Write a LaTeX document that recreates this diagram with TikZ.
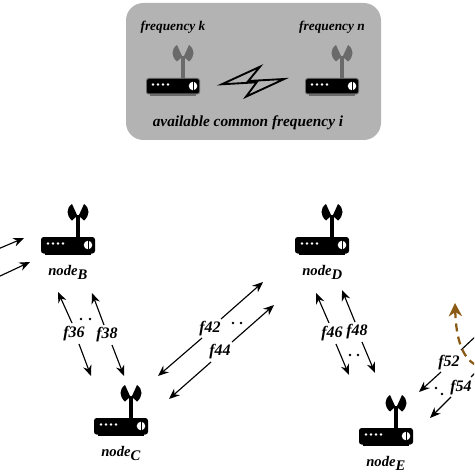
\documentclass[tikz,border=0pt]{standalone}
\usepackage{fontspec}
\setmainfont{Liberation Serif}
\usetikzlibrary{arrows.meta}
\definecolor{panelgray}{HTML}{B3B3B3}
\definecolor{antgray}{HTML}{6A6A6A}
\definecolor{brownarrow}{HTML}{8B5A14}
\tikzset{
  link/.style={-{Stealth[length=8pt,width=6.5pt]},line width=0.85pt,black},
  plainlink/.style={line width=0.85pt,black},
  flabel/.style={font=\fontsize{12}{14}\selectfont\bfseries\itshape,inner sep=0pt},
  toplabel/.style={font=\fontsize{10}{12}\selectfont\bfseries\itshape,inner sep=0pt},
  nodelabel/.style={font=\fontsize{11}{13}\selectfont\bfseries\itshape,inner sep=0pt},
  dotmark/.style={circle,fill=black,inner sep=0pt,minimum size=2pt},
  pics/router/.style={code={
    \fill[#1] (-1.7,0) rectangle (1.7,-22);
    \fill[#1] (-1,-22) -- (-6,-33) .. controls (-9,-31) and (-10.5,-28) .. (-10.5,-25)
      .. controls (-10.5,-22) and (-9,-19) .. (-6,-16.5) -- (-1,-21) -- cycle;
    \fill[#1] (1,-22) -- (6,-33) .. controls (9,-31) and (10.5,-28) .. (10.5,-25)
      .. controls (10.5,-22) and (9,-19) .. (6,-16.5) -- (1,-21) -- cycle;
    \fill[#1] (-33,15) rectangle (13,18);
    \fill[#1,rounded corners=2pt] (-37,0) rectangle (17,16.5);
    \fill[black,rounded corners=1.5pt] (-36,1) rectangle (16,15.5);
    \foreach \q in {-30,-25,-20,-15}{\fill[white] (\q,6.5) circle (1pt);}
    \fill[white] (10,8) circle (3.2pt);
    \fill[black] (9.5,3) rectangle (10.5,13);
  }},
}
\begin{document}
\begin{tikzpicture}[x=0.75pt,y=-0.75pt]
\useasboundingbox (0,0) rectangle (474,474);
\clip (0,0) rectangle (474,474);
% panel
\fill[panelgray,rounded corners=13pt] (126,3) rectangle (381,140);
\pic at (183,78) {router=antgray};
\pic at (342,78) {router=antgray};
\draw[line width=1.4pt,line join=miter,miter limit=10] (221.7,84.3) -- (260,66.7) -- (248.3,81) -- (284.3,79) -- (246,96.7) -- (256.7,82.3) -- cycle;
\node[toplabel] (tk) at (173,27) {frequency k};
\node[toplabel] (tn) at (332,27) {frequency n};
\node[font=\fontsize{11.5}{13}\selectfont\bfseries\itshape,inner sep=0pt] (tc) at (248,122.5) {available common frequency i};
% routers
\pic at (78,237) {router=black};
\pic at (131,418) {router=black};
\pic at (332,237) {router=black};
\pic at (396,428) {router=black};
\node[nodelabel,anchor=base west] (nB) at (48,275) {node\raisebox{-3pt}{B}};
\node[nodelabel,anchor=base west] (nC) at (101,456) {node\raisebox{-3pt}{C}};
\node[nodelabel,anchor=base west] (nD) at (302,275) {node\raisebox{-3pt}{D}};
\node[nodelabel,anchor=base west] (nE) at (366,466) {node\raisebox{-3pt}{E}};
% frequency labels
\node[flabel] (f36) at (74,334) {f36};
\node[flabel] (f38) at (107,335) {f38};
\node[flabel] (f42) at (210,329) {f42};
\node[flabel] (f44) at (220,352) {f44};
\node[flabel] (f46) at (332,334) {f46};
\node[flabel] (f48) at (357,332) {f48};
\node[flabel] (f52) at (449,363) {f52};
\node[flabel] (f54) at (461,388) {f54};
% connector ends
\coordinate (a1) at (-2,249); \coordinate (a2) at (24,238);
\coordinate (b1) at (-2,277); \coordinate (b2) at (30,262);
\coordinate (c1) at (72,323); \coordinate (c2) at (58,292);
\coordinate (c3) at (79,344); \coordinate (c4) at (91,376);
\coordinate (d1) at (104,325); \coordinate (d2) at (92,293);
\coordinate (d3) at (112,345); \coordinate (d4) at (124,376);
\coordinate (e1) at (202,338); \coordinate (e2) at (158,376);
\coordinate (e3) at (221,319); \coordinate (e4) at (263,282);
\coordinate (g1) at (211,362); \coordinate (g2) at (169,399);
\coordinate (g3) at (232,342); \coordinate (g4) at (274,305);
\coordinate (h1) at (329,323); \coordinate (h2) at (316,293);
\coordinate (h3) at (336,344); \coordinate (h4) at (349,375);
\coordinate (i1) at (355,322); \coordinate (i2) at (342,290);
\coordinate (i3) at (362,342); \coordinate (i4) at (375,373);
\coordinate (j1) at (441,372); \coordinate (j2) at (419,392);
\coordinate (j3) at (476,336); \coordinate (j4) at (461,350);
\coordinate (k1) at (451,397); \coordinate (k2) at (430,418);
\coordinate (k3) at (476,372); \coordinate (k4) at (471,377);
\draw[link] (a1) -- (a2);
\draw[link] (b1) -- (b2);
\draw[link] (c1) -- (c2);
\draw[link] (c3) -- (c4);
\draw[link] (d1) -- (d2);
\draw[link] (d3) -- (d4);
\draw[link] (e1) -- (e2);
\draw[link] (e3) -- (e4);
\draw[link] (g1) -- (g2);
\draw[link] (g3) -- (g4);
\draw[link] (h1) -- (h2);
\draw[link] (h3) -- (h4);
\draw[link] (i1) -- (i2);
\draw[link] (i3) -- (i4);
\draw[link] (j1) -- (j2);
\draw[plainlink] (j3) -- (j4);
\draw[link] (k1) -- (k2);
\draw[plainlink] (k3) -- (k4);
% dots
\node[dotmark] (p1) at (81,319) {};
\node[dotmark] (p2) at (90,319) {};
\node[dotmark] (p3) at (233,323) {};
\node[dotmark] (p4) at (241,323) {};
\node[dotmark] (p5) at (350,355) {};
\node[dotmark] (p6) at (358,355) {};
\node[dotmark] (p7) at (436,388) {};
\node[dotmark] (p8) at (442,394) {};
% brown dashed arrow
\coordinate (m1) at (476,365); \coordinate (m2) at (455,303);
\draw[brownarrow,line width=1.7pt,dash pattern=on 6pt off 4pt,-{Stealth[length=10pt,width=10pt]}]
  (m1) .. controls (462,358) and (456,338) .. (m2);
\end{tikzpicture}
\end{document}
